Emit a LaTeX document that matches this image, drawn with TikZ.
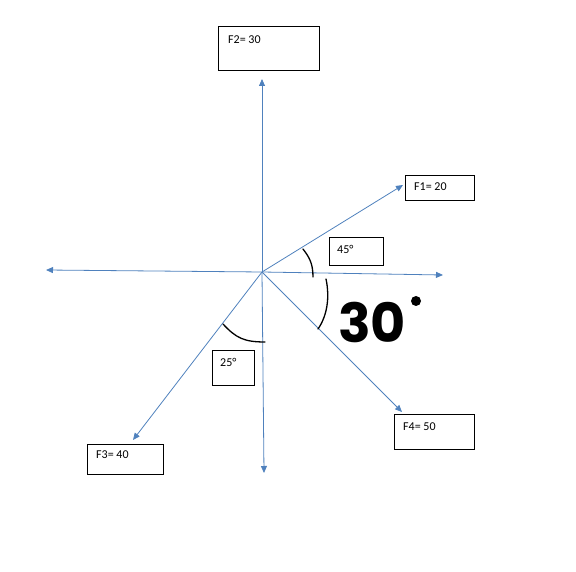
\documentclass[tikz,border=0pt]{standalone}
\usepackage{fontspec}
\setmainfont{Carlito}
\newfontfamily\handfont{Poppins}
\usetikzlibrary{arrows.meta}
\definecolor{axisblue}{HTML}{4F81BD}
\begin{document}
\begin{tikzpicture}[x=1pt,y=-1pt,
  arr/.style={draw=axisblue, line width=0.8pt, -{Triangle[width=6pt,length=7pt]}},
  box/.style={draw=black, line width=0.8pt, fill=white, inner sep=0pt},
  lbl/.style={font=\fontsize{12}{14}\selectfont, inner sep=0pt, anchor=west},
  hand/.style={draw=black, line width=1.3pt, line cap=round}]
\useasboundingbox (0,0) rectangle (576,572);
% centre and arrow tips
\coordinate (O) at (262,272);
\coordinate (xL) at (46,270);
\coordinate (xR) at (443,275);
\coordinate (yT) at (262,79);
\coordinate (yB) at (264,473);
\coordinate (t1) at (403,185);
\coordinate (t3) at (133,440);
\coordinate (t4) at (402,412);
% axes and forces
\draw[arr] (O) -- (xL);
\draw[arr] (O) -- (xR);
\draw[arr] (O) -- (yT);
\draw[arr] (O) -- (yB);
\draw[arr] (O) -- (t1);
\draw[arr] (O) -- (t3);
\draw[arr] (O) -- (t4);
% boxes
\node[box, anchor=north west, minimum width=101, minimum height=44] (bF2) at (218,26) {};
\node[lbl] (tF2) at ([xshift=10,yshift=-14]bF2.north west) {F2= 30};
\node[box, anchor=north west, minimum width=69, minimum height=25] (bF1) at (405,175) {};
\node[lbl] (tF1) at ([xshift=9,yshift=-12]bF1.north west) {F1= 20};
\node[box, anchor=north west, minimum width=54, minimum height=28] (b45) at (329,237) {};
\node[lbl] (t45) at ([xshift=8,yshift=-12]b45.north west) {45°};
\node[box, anchor=north west, minimum width=42, minimum height=35] (b25) at (212,350) {};
\node[lbl] (t25) at ([xshift=8,yshift=-12]b25.north west) {25°};
\node[box, anchor=north west, minimum width=76, minimum height=30] (bF3) at (87,444) {};
\node[lbl] (tF3) at ([xshift=9,yshift=-11]bF3.north west) {F3= 40};
\node[box, anchor=north west, minimum width=80, minimum height=35] (bF4) at (394,414) {};
\node[lbl] (tF4) at ([xshift=9,yshift=-13]bF4.north west) {F4= 50};
% angle marks
\draw[hand] (303,249) .. controls (309,257) and (313,263) .. (313,277);
\draw[hand] (326,279) .. controls (330,298) and (327,316) .. (318,329);
\draw[hand] (223,324) .. controls (236,338) and (244,342) .. (265,342);
% big handwritten 30 with degree dot
\node[inner sep=0pt, anchor=west, font=\handfont\bfseries\fontsize{54}{54}\selectfont] (big30) at (338,322) {30};
\fill[black] (416,301) circle (5);
\end{tikzpicture}
\end{document}
